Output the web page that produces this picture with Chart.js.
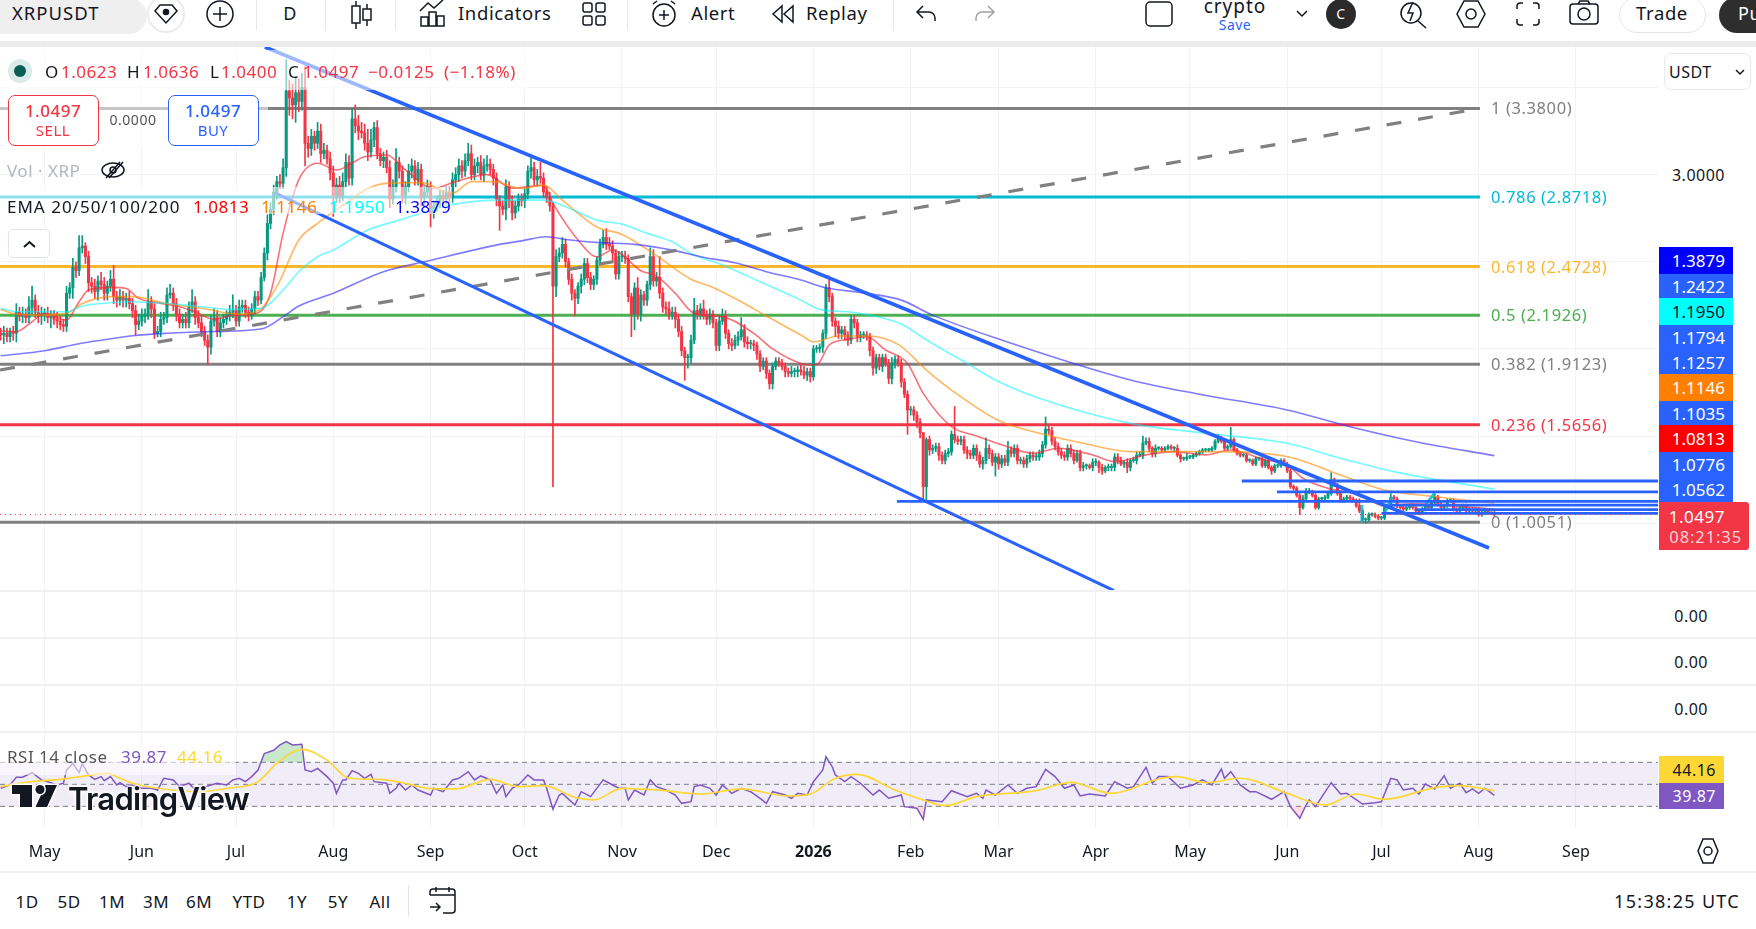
<!DOCTYPE html>
<html>
<head>
<meta charset="utf-8">
<title>XRPUSDT</title>
<script src="https://cdn.jsdelivr.net/npm/chart.js@4"></script>
<style>
  html, body { margin: 0; padding: 0; background: #fff; }
  #page { position: relative; width: 1756px; height: 929px; overflow: hidden; background: #fff; font-family: "Noto Sans", sans-serif; color: #131722; }
  #page > * { position: absolute; }
  canvas { display: block; }
  .t { white-space: nowrap; line-height: 1; }
  .line { background: #f0f0f3; left: 0; width: 1756px; height: 2px; }
  .fade { background: rgba(255,255,255,.55); }
  .tag { left: 1659px; width: 74px; text-align: right; color: #fff; font-size: 17px; box-sizing: border-box; padding-right: 8px; display: flex; align-items: center; justify-content: flex-end; }
  .vdiv { width: 1px; height: 30px; top: 0; background: #e6e6e8; }
  svg { fill: none; stroke: #131722; stroke-width: 1.5; overflow: visible; }
</style>
</head>
<body>
<div id="page">
  <canvas id="priceChart" width="1658" height="544" style="left:0;top:47px"></canvas>
  <canvas id="rsiChart" width="1658" height="279" style="left:0;top:592px"></canvas>

  <!-- toolbar -->
  <div style="left:0;top:-2px;width:147px;height:36px;background:#efefef;border-radius:0 18px 18px 0"></div>
  <div style="left:147px;top:-5px;width:38px;height:38px;background:#fff;border:2px solid #ececec;border-radius:50%;box-sizing:border-box"></div>
  <div style="left:0;top:41px;width:1756px;height:6px;background:#ebebeb"></div>
  <div class="vdiv" style="left:256px"></div><div class="vdiv" style="left:325px"></div><div class="vdiv" style="left:395px"></div>
  <div class="vdiv" style="left:627px"></div><div class="vdiv" style="left:893px"></div>
  <svg style="left:154px;top:3px" width="24" height="22"><path d="M6 2h12l5 6-11 12L1 8z"/><circle cx="12" cy="9" r="2.5" fill="#131722"/></svg>
  <svg style="left:206px;top:0" width="28" height="28"><circle cx="14" cy="14" r="13"/><path d="M14 7v14M7 14h14"/></svg>
  <svg style="left:350px;top:1px" width="22" height="28"><path d="M6 0v28M17 3v22"/><rect x="2" y="5" width="8" height="17" fill="#fff"/><rect x="13" y="8" width="8" height="11" fill="#fff"/></svg>
  <svg style="left:419px;top:0" width="28" height="28"><path d="M2 26V17h7v9zM10 26V12h7v14zM18 26V16h7v10zM1 11l8-8 6 5 9-8"/></svg>
  <svg style="left:582px;top:2px" width="24" height="24"><rect x="1" y="1" width="9" height="9" rx="2"/><rect x="14" y="1" width="9" height="9" rx="2"/><rect x="1" y="14" width="9" height="9" rx="2"/><rect x="14" y="14" width="9" height="9" rx="2"/></svg>
  <svg style="left:650px;top:0" width="28" height="28"><circle cx="14" cy="15" r="11"/><path d="M14 10v10M9 15h10M3 4l4-3M25 4l-4-3"/></svg>
  <svg style="left:771px;top:4px" width="24" height="20"><path d="M11 2v16L2 10zM22 2v16l-9-8z"/></svg>
  <svg style="left:915px;top:4px" width="24" height="20"><path d="M8 2L2 8l6 6M2 8h12a6 6 0 0 1 6 6v3"/></svg>
  <svg style="left:972px;top:4px;opacity:.4" width="24" height="20"><path d="M16 2l6 6-6 6M22 8H10a6 6 0 0 0-6 6v3"/></svg>
  <svg style="left:1145px;top:1px" width="28" height="26"><rect x="1" y="1" width="26" height="24" rx="4"/></svg>
  <svg style="left:1296px;top:10px" width="12" height="8"><path d="M1 1l5 5 5-5"/></svg>
  <div style="left:1326px;top:-1px;width:30px;height:30px;border-radius:50%;background:#2a2a2a"></div>
  <svg style="left:1400px;top:0" width="28" height="28"><circle cx="11" cy="13" r="10"/><path d="M18 21l8 7M13 2l-5 11h5l-3 8"/></svg>
  <svg style="left:1456px;top:0" width="30" height="28"><path d="M8 1h14l7 13-7 13H8L1 14z"/><circle cx="15" cy="14" r="5"/></svg>
  <svg style="left:1516px;top:2px" width="24" height="24"><path d="M7 1H4a3 3 0 0 0-3 3v3M17 1h3a3 3 0 0 1 3 3v3M7 23H4a3 3 0 0 1-3-3v-3M17 23h3a3 3 0 0 0 3-3v-3"/></svg>
  <svg style="left:1569px;top:0" width="30" height="26"><rect x="1" y="4" width="28" height="20" rx="3"/><circle cx="15" cy="14" r="6"/><path d="M9 4l2-3h8l2 3"/></svg>
  <div style="left:1619px;top:-3px;width:87px;height:36px;border:1px solid #e6e6e8;border-radius:18px;box-sizing:border-box"></div>
  <div style="left:1719px;top:-3px;width:60px;height:36px;background:#2e2e2e;border-radius:18px"></div>

  <!-- faded strips behind the chart legend -->
  <div class="fade" style="left:0;top:50px;width:528px;height:40px"></div>
  <div class="fade" style="left:0;top:90px;width:268px;height:58px"></div>
  <div class="fade" style="left:0;top:187px;width:452px;height:27px"></div>
  <div class="fade" style="left:0;top:745px;width:236px;height:30px"></div>

  <div style="left:8px;top:59px;width:24px;height:24px;border-radius:50%;background:#d9ecea"></div>
  <div style="left:14px;top:65px;width:12px;height:12px;border-radius:50%;background:#0b5e55"></div>
  <div style="left:8px;top:95px;width:91px;height:51px;border:1px solid #f23645;border-radius:7px;background:#fff;box-sizing:border-box"></div>
  <div style="left:168px;top:95px;width:91px;height:51px;border:1px solid #2962ff;border-radius:7px;background:#fff;box-sizing:border-box"></div>
  <svg style="left:101px;top:160px" width="24" height="20"><ellipse cx="12" cy="10" rx="11" ry="7"/><circle cx="12" cy="10" r="3"/><path d="M5 18L19 2M8 18L22 2"/></svg>
  <div style="left:8px;top:229px;width:42px;height:29px;border:1px solid #e0e3eb;border-radius:5px;box-sizing:border-box;background:#fff"></div>
  <svg style="left:23px;top:240px" width="13" height="8"><path d="M1 7l5.500-5 5.500 5" stroke-width="2"/></svg>
  <div style="left:1664px;top:53px;width:87px;height:37px;border:1px solid #e8eaf0;border-radius:7px;box-sizing:border-box;background:#fff"></div>
  <svg style="left:1735px;top:69px" width="10" height="6"><path d="M1 1l4 4 4-4" stroke-width="1.500"/></svg>

  <div class="line" style="top:590px"></div><div class="line" style="top:637px"></div>
  <div class="line" style="top:684px"></div><div class="line" style="top:731px"></div>
  <div class="line" style="top:871px"></div>

  <!-- TradingView mark -->
  <svg style="left:12px;top:785px;stroke:#fff;stroke-width:3;paint-order:stroke" width="45" height="22" viewBox="0 0 45 22"><path fill="#131722" d="M0 0H20V22H8V9H0zM33.500 0H45L35 22H23.500z"/><circle cx="28" cy="4.500" r="4.500" fill="#131722"/></svg>
  <div class="t" style="left:68px;top:782px;font:600 31px/1.1 Inter,sans-serif;letter-spacing:-.7px;text-shadow:0 0 2px #fff,0 0 2px #fff,0 0 3px #fff,0 0 3px #fff,0 0 4px #fff">TradingView</div>

  <svg style="left:1697px;top:838px" width="22" height="26"><path d="M6 1h10l5 12-5 12H6L1 13z"/><circle cx="11" cy="13" r="4"/></svg>
  <div style="left:408px;top:885px;width:1px;height:32px;background:#e0e3eb"></div>
  <svg style="left:429px;top:887px" width="27" height="28"><path d="M1 8V5a3 3 0 0 1 3-3h19a3 3 0 0 1 3 3v18a3 3 0 0 1-3 3h-9M1 8h25M7 0v5M20 0v5M1 20h10M7 16l4 4-4 4"/></svg>
</div>

<script>
// values. day 0 is 1 May 2025
const firstDay = -14;
const firstOpen = 2.09;
const closes = [
  2.08,2.09,2.07,2.10,2.09,2.21,2.19,2.20,2.18,2.24,2.28,2.21,2.19,2.20,2.20,2.18,2.19,2.17,2.16,2.14,
  2.13,2.32,2.35,2.47,2.45,2.58,2.59,2.53,2.38,2.36,2.33,2.39,2.37,2.32,2.36,2.40,2.30,2.28,2.30,2.28,
  2.29,2.26,2.22,2.14,2.16,2.19,2.20,2.27,2.23,2.09,2.10,2.17,2.18,2.31,2.32,2.26,2.20,2.15,2.17,2.15,
  2.24,2.27,2.18,2.15,2.10,2.05,2.01,2.16,2.18,2.10,2.15,2.17,2.19,2.21,2.22,2.16,2.24,2.25,2.21,2.19,
  2.23,2.30,2.28,2.41,2.55,2.72,2.80,2.90,2.96,2.95,3.04,3.48,3.44,3.40,3.47,3.42,3.50,3.18,3.15,3.22,
  3.18,3.25,3.12,3.14,3.09,3.01,2.88,2.94,2.88,2.96,3.07,2.98,3.32,3.28,3.25,3.24,3.18,3.13,3.20,3.27,
  3.12,3.08,3.10,3.04,2.86,2.93,3.07,3.02,2.88,2.93,3.02,3.05,2.97,3.03,2.87,2.90,2.93,2.78,2.82,2.85,
  2.88,2.86,2.90,2.87,2.97,3.00,3.05,3.02,3.08,3.12,3.00,3.05,3.07,3.00,3.05,3.06,3.03,2.98,2.86,2.82,
  2.80,2.93,2.85,2.78,2.82,2.86,2.85,2.89,3.02,3.04,2.97,2.99,2.98,2.90,2.87,2.82,2.36,2.53,2.55,2.60,
  2.50,2.40,2.32,2.29,2.36,2.40,2.49,2.41,2.37,2.40,2.51,2.60,2.64,2.60,2.59,2.55,2.43,2.53,2.53,2.52,
  2.30,2.20,2.35,2.20,2.31,2.28,2.37,2.53,2.39,2.41,2.32,2.24,2.23,2.20,2.21,2.17,2.10,1.99,1.95,1.95,
  2.05,2.22,2.20,2.23,2.19,2.17,2.20,2.15,2.02,2.16,2.19,2.09,2.03,2.02,2.05,2.07,2.11,2.04,2.03,2.03,
  2.02,1.97,1.90,1.93,1.86,1.80,1.90,1.93,1.92,1.90,1.87,1.86,1.87,1.87,1.88,1.87,1.85,1.87,1.84,2.00,
  2.00,2.01,2.09,2.35,2.30,2.16,2.13,2.09,2.11,2.08,2.05,2.17,2.15,2.07,2.08,2.08,2.07,1.99,1.89,1.95,
  1.90,1.95,1.92,1.83,1.92,1.94,1.92,1.81,1.74,1.65,1.65,1.62,1.58,1.52,1.21,1.48,1.42,1.43,1.44,1.39,
  1.36,1.40,1.41,1.51,1.48,1.47,1.48,1.42,1.40,1.39,1.43,1.39,1.34,1.36,1.43,1.40,1.35,1.38,1.34,1.37,
  1.35,1.42,1.40,1.43,1.36,1.36,1.34,1.37,1.39,1.38,1.38,1.40,1.45,1.54,1.53,1.47,1.44,1.41,1.39,1.38,
  1.43,1.40,1.36,1.40,1.32,1.33,1.33,1.32,1.35,1.35,1.32,1.30,1.32,1.32,1.32,1.38,1.36,1.34,1.35,1.32,
  1.36,1.36,1.39,1.39,1.46,1.47,1.43,1.40,1.43,1.43,1.42,1.43,1.44,1.43,1.43,1.39,1.37,1.37,1.38,1.38,
  1.39,1.40,1.41,1.42,1.42,1.42,1.43,1.47,1.49,1.47,1.43,1.44,1.48,1.42,1.40,1.39,1.39,1.36,1.36,1.34,
  1.37,1.37,1.33,1.36,1.32,1.30,1.33,1.33,1.36,1.34,1.30,1.21,1.20,1.16,1.09,1.14,1.18,1.18,1.16,1.09,
  1.14,1.14,1.15,1.17,1.25,1.22,1.17,1.13,1.14,1.15,1.14,1.13,1.10,1.07,1.02,1.02,1.05,1.05,1.04,1.03,
  1.03,1.09,1.10,1.15,1.14,1.10,1.09,1.08,1.09,1.10,1.09,1.07,1.06,1.08,1.10,1.09,1.12,1.15,1.11,1.09,
  1.10,1.13,1.13,1.08,1.07,1.09,1.10,1.07,1.08,1.07,1.08,1.05,1.06,1.07,1.06,1.0623,1.0497
];
// wick lengths in hundredths of a dollar, above and below the body
const upperWicks = [
  3,4,3,2,3,5,3,4,3,6,8,3,4,4,3,4,3,3,4,3,
  3,4,3,5,3,7,6,2,3,3,4,3,5,4,3,5,8,3,4,3,
  3,4,3,3,4,4,3,7,3,3,3,4,3,4,5,3,3,3,3,4,
  3,7,3,4,4,3,3,3,5,4,3,3,3,4,9,3,4,3,3,3,
  3,3,3,3,3,5,4,4,3,4,5,18,6,8,9,8,8,12,4,4,
  3,5,4,4,3,4,4,4,5,5,5,4,6,8,6,5,5,8,6,3,
  4,3,3,4,4,4,8,3,3,3,4,4,3,4,3,3,4,3,3,3,
  3,3,3,3,4,4,4,3,4,6,5,4,3,4,4,5,3,3,3,2,
  3,4,3,3,3,3,3,3,3,6,3,4,8,3,3,3,2,4,3,4,
  3,2,3,2,2,3,3,3,3,2,2,3,4,5,4,3,2,3,3,3,
  2,2,3,6,3,2,2,5,4,3,12,3,3,4,3,3,3,3,2,2,
  3,7,3,3,5,3,3,2,2,3,4,3,2,3,3,3,7,3,3,2,
  2,2,2,2,2,2,2,2,2,2,2,2,3,2,2,3,3,2,2,2,
  2,2,2,2,7,2,2,3,2,2,2,2,2,2,2,2,2,2,2,2,
  2,2,2,2,3,2,2,2,2,2,2,2,2,2,0,1,2,2,2,2,
  2,2,2,2,16,2,2,2,2,2,2,2,2,2,6,2,2,2,2,2,
  2,5,2,2,2,2,2,2,2,2,2,2,2,7,2,2,2,2,2,2,
  2,2,2,2,2,2,1,1,2,2,1,2,1,2,2,2,2,2,1,2,
  1,2,2,2,4,2,2,1,2,1,1,1,1,1,1,2,1,1,2,1,
  1,1,1,1,1,1,1,1,2,1,1,1,7,1,1,1,1,1,1,1,
  1,1,1,1,1,1,1,1,1,1,1,1,1,1,1,2,2,2,1,1,
  1,1,1,1,4,1,1,1,1,1,1,1,1,4,1,1,1,1,1,1,
  1,1,1,2,1,1,1,1,1,1,1,1,1,1,1,1,1,2,1,1,
  1,1,1,1,1,1,1,1,1,1,1,1,1,1,1,0,1
];
const lowerWicks = [
  3,5,3,3,4,5,3,4,3,3,4,3,4,5,4,3,6,3,4,3,
  3,3,3,6,4,3,3,4,5,4,4,5,3,4,4,3,4,4,3,4,
  4,3,4,6,3,3,4,3,5,3,2,3,3,3,2,4,4,3,3,3,
  3,3,4,3,3,3,10,4,3,3,3,3,3,3,3,3,3,3,3,3,
  2,3,3,2,2,4,3,3,4,3,3,5,10,8,10,6,5,13,5,4,
  4,3,5,3,3,4,12,4,4,3,3,4,4,4,5,3,4,5,3,4,
  3,3,4,3,5,3,3,4,4,5,3,4,3,3,5,4,3,8,3,3,
  4,3,3,3,3,4,4,4,3,3,3,3,4,3,4,3,3,4,4,14,
  3,6,4,4,3,3,3,4,3,4,3,3,3,3,3,3,115,6,3,3,
  3,3,4,10,3,4,3,3,3,3,3,2,2,3,2,5,3,3,3,3,
  3,13,9,3,4,3,3,3,3,3,3,3,3,3,3,5,3,3,13,6,
  3,2,3,3,2,3,3,3,3,3,2,3,3,3,2,3,2,3,3,3,
  3,3,3,2,3,3,3,2,2,2,3,2,2,3,3,2,2,3,3,2,
  2,2,3,3,3,3,6,3,3,3,3,2,3,3,3,2,2,3,4,3,
  2,3,2,3,3,3,2,3,2,14,3,3,3,3,7,9,3,2,2,3,
  2,2,2,2,2,2,2,2,3,2,2,3,2,3,2,3,2,8,3,2,
  2,2,2,2,2,2,2,2,2,2,2,2,2,2,2,2,2,2,2,2,
  2,2,2,1,2,2,2,1,2,2,3,2,1,2,2,2,2,1,2,3,
  2,1,2,1,2,1,2,2,2,1,1,1,1,1,2,1,2,1,1,1,
  1,1,1,1,1,1,1,1,1,1,1,1,1,1,1,1,1,1,1,1,
  1,1,1,1,1,2,1,1,1,1,1,1,1,1,4,1,1,1,1,1,
  1,1,1,1,1,1,1,1,1,1,1,1,1,1,1,2,1,1,1,1,
  1,1,1,1,1,1,1,1,1,1,1,1,1,1,1,1,1,1,1,1,
  1,1,1,1,1,1,1,1,1,1,1,1,1,1,1,1,1
];

const ema20Days = [-14,-9,-4,0,7,11,14,21,26,30,36,42,48,54,60,68,72,76,81,87,93,102,109,115,124,131,141,149,159,162,170,176,181,190,195,201,207,216,226,232,241,246,250,256,262,268,275,280,289,297,305,315,323,334,341,351,360,370,378,389,396,401,409,419,427,436,449,462];
const ema20 = [2.103,2.099,2.156,2.204,2.166,2.271,2.338,2.353,2.347,2.29,2.265,2.246,2.213,2.17,2.194,2.208,2.319,2.663,2.97,3.065,3.027,3.103,3.113,3.027,2.922,2.96,3.0,2.922,2.94,2.835,2.625,2.529,2.567,2.449,2.418,2.319,2.204,2.185,2.089,2.0,1.917,1.908,2.022,2.055,2.07,1.994,1.917,1.745,1.554,1.5,1.45,1.401,1.43,1.392,1.354,1.392,1.411,1.392,1.42,1.363,1.334,1.258,1.2,1.162,1.099,1.111,1.099,1.0813];
const ema50Days = [-14,-9,0,7,12,21,28,39,50,62,69,74,81,87,96,103,109,120,130,136,143,152,159,165,176,184,194,206,213,222,230,241,245,253,262,272,281,289,304,317,331,346,370,395,413,427,443,462];
const ema50 = [2.227,2.2,2.194,2.204,2.261,2.3,2.3,2.261,2.233,2.2,2.233,2.357,2.625,2.721,2.836,2.92,2.95,2.954,2.893,2.96,2.96,2.92,2.94,2.854,2.70,2.657,2.548,2.4,2.353,2.271,2.189,2.08,2.041,2.074,2.074,2.026,1.879,1.764,1.589,1.516,1.459,1.411,1.411,1.386,1.277,1.191,1.153,1.1146];
const ema100Days = [-14,-9,0,7,12,18,28,39,50,60,69,76,81,87,92,103,113,129,145,159,166,176,184,192,200,206,216,228,241,247,256,263,273,282,294,303,317,346,370,396,413,430,462];
const ema100 = [2.232,2.213,2.213,2.213,2.246,2.261,2.271,2.261,2.242,2.227,2.233,2.338,2.443,2.529,2.567,2.682,2.739,2.825,2.854,2.854,2.816,2.739,2.716,2.663,2.615,2.548,2.481,2.386,2.28,2.227,2.213,2.194,2.143,2.041,1.917,1.822,1.717,1.573,1.516,1.459,1.373,1.296,1.195];
const ema200Days = [-14,0,11,18,28,39,54,69,76,81,92,108,122,145,152,160,166,177,188,200,209,220,230,241,249,262,273,283,305,346,368,396,416,437,462];
const ema200 = [1.961,1.99,2.03,2.05,2.076,2.09,2.10,2.114,2.185,2.246,2.319,2.443,2.504,2.60,2.62,2.644,2.628,2.61,2.60,2.567,2.529,2.494,2.443,2.395,2.351,2.319,2.28,2.194,2.051,1.822,1.74,1.65,1.554,1.468,1.3879];

const fibRatios = ["1","0.786","0.618","0.5","0.382","0.236","0"];
const fibPrices = [3.38,2.8718,2.4728,2.1926,1.9123,1.5656,1.0051];
const fibColors = ["#808080","#00bcd4","#fbb72c","#4caf50","#808080","#f23645","#808080"];
const fibStartDay = -15;
const fibEndDay = 457.4;

const upperChannelDays = [70.2,460.3];
const upperChannel = [3.732,0.858];
const lowerChannelDays = [73.4,340.8];
const lowerChannel = [2.895,0.613];
const riseLineDays = [-14.2,457.4];
const riseLine = [1.879,3.38];
const shelfPrices = [1.2422,1.1794,1.1257,1.1035,1.0776,1.0562];
const shelfStartDays = [381.5,392.7,271.6,428.7,436.7,426];
const tealSegmentDays = [[419.8,419.8],[427,429.4],[440,443]];
const tealSegments = [[1.105,1.007],[1.059,1.15],[1.105,1.173]];
const lastPrice = 1.0497;

const rsiDays = [-14,-11,-9,-7,-4,-1,1,4,6,7,9,11,12,14,16,18,19,21,23,24,26,28,31,34,36,38,41,43,46,48,53,55,58,60,62,64,66,68,70,73,75,77,79,82,83,85,87,90,92,93,95,96,98,100,102,104,105,109,110,112,113,115,117,119,123,124,127,130,132,135,137,139,142,144,146,147,149,151,154,156,159,160,162,164,165,169,171,174,178,181,183,185,186,188,191,193,195,198,201,203,206,207,209,212,214,216,219,222,225,228,230,232,236,238,240,243,245,248,249,251,252,255,257,260,264,266,269,273,274,278,280,281,286,289,294,297,299,300,303,307,310,313,316,319,322,325,328,330,333,338,341,345,347,351,353,355,358,362,366,369,372,375,376,378,381,384,386,391,395,397,400,402,403,405,410,413,415,420,424,426,429,431,433,436,438,440,443,446,448,451,453,455,457,459,462];
const rsiValues = [46.4,49.4,56.4,56.4,60.6,54,52.4,49.4,51,63,69,60.6,69,58.5,54.5,57,53.3,57,49.4,51.5,47.9,49.4,46.4,46.4,44.8,55.5,54,47.9,51,44.8,49.4,51,49.4,54,55.5,52.4,57,63,78,81,85.8,88.8,85.8,86.4,63,61.5,64.5,57,51,41.8,54,54,62.4,60,55.5,59,52.4,51,41.8,46.4,51,44.8,49.4,44.8,40.3,46.4,43.3,54,55.5,61.5,54,57.6,54,41.8,49.4,38.8,46.4,49.4,58.5,54,54,46.4,27.3,40.3,41.8,31.2,43.3,38.8,54,49.4,46.4,46.4,35.8,44.8,40.3,54,47.9,44.8,40.3,32.7,34.2,47.9,49.4,46.4,40.3,49.4,41.8,46.4,43.3,37.3,32.7,43.3,40.3,37.3,41.8,40.3,52.4,63,75.2,66,58.5,52.4,57,51,40.3,44.8,37.3,40.3,29.7,28.2,18.2,35.8,34.2,44.2,38.8,41.8,37.3,44.8,40.3,49.4,41.8,46.4,47.9,63.6,57,46.4,49.4,39.4,41.2,39.4,52.4,46.4,47.9,65.5,51,57,57,46.4,49.4,54,49.4,63.9,55.5,61.5,49.4,43.3,43.3,36.4,43.3,29.7,19.1,31.2,35.8,29.7,51.5,41.2,41.8,32.1,33.3,34.2,55.5,54,44.8,46.4,41.2,50.3,45.8,57.9,46.4,51,42.4,45.8,41.8,46.4,39.87];
const rsiAvgDays = [-14,-4,3,10,20,24,28,36,50,58,68,74,82,90,97,107,114,122,131,142,151,159,169,175,184,196,209,222,237,244,252,259,271,280,287,297,316,327,340,355,361,370,381,396,408,418,427,443,451,462];
const rsiAvg = [47.9,52.4,54,56.4,60,55.5,51,46.4,43.3,46.4,52.4,69,81.8,72,55.5,54.5,51.5,46.4,45.8,54.5,47.9,48.8,38.2,35.8,46.4,44.8,41.2,45.8,39.4,41.2,55.5,59.1,44.8,35.8,30.6,38.8,44.2,51.8,41.8,54.8,57,51.5,55.5,41.8,31.2,41.2,36.4,47,48.8,44.16];
const rsiBands = [70,50,30];

const monthDays = [0,31,61,92,123,153,184,214,245,276,304,335,365,396,426,457,488];
const monthLabels = ["May","Jun","Jul","Aug","Sep","Oct","Nov","Dec","2026","Feb","Mar","Apr","May","Jun","Jul","Aug","Sep"];
const priceTicks = [3.5,3,2.5,2,1.5,1];

const xMin = -14.21, xMax = 514.15;
const priceMin = 0.6112, priceMax = 3.7323;
const rsiMin = 10.3, rsiMax = 224.8;

const gridColor = "#f2f3f6";
const upColor = "#089981", downColor = "#f23645", trendBlue = "#2962ff";

const days = closes.map((c, i) => firstDay + i);
const opens = closes.map((c, i) => (i ? closes[i - 1] : firstOpen));
const candleColors = closes.map((c, i) => (c >= opens[i] ? upColor : downColor));

function xy(xs, ys) {
  return xs.map((x, i) => ({ x: x, y: ys[i] }));
}

function lineSet(xs, ys, color, width, order, extra) {
  return Object.assign({
    type: "line", data: xy(xs, ys), borderColor: color, borderWidth: width,
    pointRadius: 0, fill: false, tension: 0, order: order,
  }, extra || {});
}

function emaSet(xs, ys, color) {
  return lineSet(xs, ys, color, 1.6, 20, { cubicInterpolationMode: "monotone" });
}

function xScale(showLabels) {
  return {
    type: "linear", min: xMin, max: xMax, offset: false,
    afterBuildTicks: (s) => { s.ticks = monthDays.map((v) => ({ value: v })); },
    afterFit: (s) => { s.height = showLabels ? 43 : 0; },
    grid: { color: gridColor, drawTicks: false, offset: false },
    border: { display: false },
    ticks: {
      display: showLabels, autoSkip: false, maxRotation: 0, padding: 15, color: "#131722",
      font: (c) => ({
        family: "Noto Sans", size: 16,
        weight: c.tick && monthLabels[monthDays.indexOf(c.tick.value)] === "2026" ? "bold" : "normal",
      }),
      callback: (v) => monthLabels[monthDays.indexOf(v)],
    },
  };
}

const priceSets = [];
fibPrices.forEach((p, i) => {
  priceSets.push(lineSet([fibStartDay, fibEndDay], [p, p], fibColors[i], 3, 50));
});
priceSets.push({
  type: "bar", data: days.map((d, i) => ({
    x: d,
    y: [Math.min(opens[i], closes[i]) - lowerWicks[i] / 100, Math.max(opens[i], closes[i]) + upperWicks[i] / 100],
  })),
  backgroundColor: candleColors, barThickness: 1, grouped: false, order: 40,
});
priceSets.push({
  type: "bar", data: days.map((d, i) => ({ x: d, y: [opens[i], closes[i]] })),
  backgroundColor: candleColors, barThickness: 2.4, minBarLength: 1, grouped: false, order: 39,
});
priceSets.push(emaSet(ema200Days, ema200, "rgba(50,40,255,.62)"));
priceSets.push(emaSet(ema100Days, ema100, "rgba(0,245,255,.55)"));
priceSets.push(emaSet(ema50Days, ema50, "rgba(255,140,0,.62)"));
priceSets.push(emaSet(ema20Days, ema20, "rgba(242,40,50,.65)"));
priceSets.push(lineSet(riseLineDays, riseLine, "#808080", 3.2, 12, { borderDash: [15, 17] }));
priceSets.push(lineSet(upperChannelDays, upperChannel, trendBlue, 3.6, 10));
priceSets.push(lineSet(lowerChannelDays, lowerChannel, trendBlue, 3, 10));
shelfPrices.forEach((p, i) => {
  priceSets.push(lineSet([shelfStartDays[i], xMax], [p, p], trendBlue, 2.8, 11));
});
tealSegments.forEach((seg, i) => {
  priceSets.push(lineSet(tealSegmentDays[i], seg, "rgba(0,188,212,.85)", 3, 11));
});
priceSets.push(lineSet([xMin, xMax], [lastPrice, lastPrice], downColor, 1, 9, { borderDash: [1, 4] }));

const priceChart = new Chart("priceChart", {
  type: "bar",
  data: { datasets: priceSets },
  options: {
    responsive: false, animation: false, devicePixelRatio: 1,
    layout: { padding: 0 },
    plugins: { legend: { display: false }, tooltip: { enabled: false } },
    scales: {
      x: xScale(false),
      y: {
        min: priceMin, max: priceMax,
        afterBuildTicks: (s) => { s.ticks = priceTicks.map((v) => ({ value: v })); },
        afterFit: (s) => { s.width = 0; },
        grid: { color: gridColor, drawTicks: false },
        border: { display: false },
        ticks: { display: false },
      },
    },
  },
});

const rsiSets = [];
rsiSets.push(lineSet([xMin, xMax], [rsiBands[0], rsiBands[0]], "transparent", 0, 60, {
  fill: { target: { value: rsiBands[2] }, below: "rgba(126,87,194,.11)", above: "rgba(126,87,194,.11)" },
}));
rsiBands.forEach((b) => {
  rsiSets.push(lineSet([xMin, xMax], [b, b], "#787b86", 1, 50, { borderDash: [5, 4] }));
});
rsiSets.push(lineSet(rsiDays, rsiValues, "#7e57c2", 1.5, 20, {
  fill: { target: { value: rsiBands[0] }, above: "rgba(76,175,80,.3)", below: "transparent" },
}));
rsiSets.push(lineSet(rsiDays, rsiValues, "transparent", 0, 21, {
  fill: { target: { value: rsiBands[2] }, above: "transparent", below: "rgba(242,54,69,.18)" },
}));
rsiSets.push(lineSet(rsiAvgDays, rsiAvg, "#fdd835", 1.7, 10, { cubicInterpolationMode: "monotone" }));

new Chart("rsiChart", {
  type: "line",
  data: { datasets: rsiSets },
  options: {
    responsive: false, animation: false, devicePixelRatio: 1,
    layout: { padding: 0 },
    plugins: { legend: { display: false }, tooltip: { enabled: false } },
    scales: {
      x: xScale(true),
      y: { display: false, min: rsiMin, max: rsiMax },
    },
  },
});

// all the words and numbers around the charts are plain page text
const page = document.getElementById("page");
function addText(text, x, y, o) {
  o = o || {};
  const el = document.createElement("div");
  el.className = "t";
  el.textContent = text;
  el.style.top = y + "px";
  el.style.fontSize = (o.size || 17) + "px";
  el.style.color = o.color || "#131722";
  el.style.letterSpacing = (o.spacing === undefined ? 0.5 : o.spacing) + "px";
  if (o.weight) el.style.fontWeight = o.weight;
  if (o.align === "right") {
    el.style.right = 1756 - x + "px";
    el.style.transform = "translateY(-50%)";
  } else if (o.align === "center") {
    el.style.left = x + "px";
    el.style.transform = "translate(-50%,-50%)";
  } else {
    el.style.left = x + "px";
    el.style.transform = "translateY(-50%)";
  }
  page.appendChild(el);
  return el;
}

// toolbar
addText("XRPUSDT", 12, 13, { size: 18.5, spacing: 1 });
addText("D", 290, 13, { size: 18, align: "center" });
addText("Indicators", 458, 13, { size: 18.5, spacing: 0.6 });
addText("Alert", 691, 13, { size: 18.5, spacing: 0.6 });
addText("Replay", 806, 13, { size: 18.5, spacing: 0.6 });
addText("crypto", 1235, 6, { size: 19, spacing: 1, align: "center" });
addText("Save", 1235, 25, { size: 14, align: "center", color: "#2962ff" });
addText("C", 1341, 14, { size: 14, align: "center", color: "#fff" });
addText("Trade", 1662, 13, { size: 18.5, spacing: 0.6, align: "center" });
addText("Pu", 1738, 13, { size: 18, color: "#fff" });

// legend
const red = "#f23645";
addText("O", 45, 71); addText("1.0623", 61, 71, { color: red });
addText("H", 127, 71); addText("1.0636", 143, 71, { color: red });
addText("L", 210, 71); addText("1.0400", 221, 71, { color: red });
addText("C", 288, 71); addText("1.0497", 303, 71, { color: red });
addText("\u22120.0125", 368, 71, { color: red });
addText("(\u22121.18%)", 444, 71, { color: red });
addText("1.0497", 53, 110, { align: "center", color: red, size: 17, weight: 500 });
addText("SELL", 53, 130, { align: "center", color: red, size: 15 });
addText("0.0000", 133, 120, { align: "center", size: 14, color: "#555" });
addText("1.0497", 213, 110, { align: "center", color: "#2962ff", size: 17, weight: 500 });
addText("BUY", 213, 130, { align: "center", color: "#2962ff", size: 15 });
addText("Vol \u00b7 XRP", 7, 170, { color: "#b2b5be" });
addText("EMA 20/50/100/200", 7, 206, { spacing: 1 });
addText("1.0813", 193, 206, { color: "#ff0000" });
addText("1.1146", 261, 206, { color: "#ff7f00" });
addText("1.1950", 329, 206, { color: "#00ffff" });
addText("1.3879", 395, 206, { color: "#0000ff" });
addText("RSI 14 close", 7, 756, { color: "#555" });
addText("39.87", 121, 756, { color: "#7e57c2" });
addText("44.16", 177, 756, { color: "#fdd835" });

// fibonacci level labels sit on the price scale
fibPrices.forEach((p, i) => {
  const y = 47 + priceChart.scales.y.getPixelForValue(p);
  addText(fibRatios[i] + " (" + p.toFixed(4) + ")", 1491, y, { size: 16.5, spacing: 0.6, color: fibColors[i] });
});

// price axis
addText("USDT", 1669, 72, { size: 16 });
addText("3.0000", 1725, 175, { size: 16, align: "right" });
["0.00", "0.00", "0.00"].forEach((s, i) => {
  addText(s, 1708, [616, 662, 709][i], { size: 16, align: "right" });
});

const tagLabels = ["1.3879","1.2422","1.1950","1.1794","1.1257","1.1146","1.1035","1.0813","1.0776","1.0562"];
const tagColors = ["#0000ff","#2962ff","#00ffff","#2962ff","#2962ff","#ff7f00","#2962ff","#ff0000","#2962ff","#2962ff"];
const tagEdges = [247,274,298,325,350,374,401,425,452,476,502];
tagLabels.forEach((s, i) => {
  const el = document.createElement("div");
  el.className = "tag";
  el.textContent = s;
  el.style.top = tagEdges[i] + "px";
  el.style.height = tagEdges[i + 1] - tagEdges[i] + "px";
  el.style.background = tagColors[i];
  if (tagColors[i] === "#00ffff") el.style.color = "#131722";
  page.appendChild(el);
});
const lastTag = document.createElement("div");
lastTag.style.cssText = "left:1659px;top:502px;width:90px;height:48px;background:#f23645;border-radius:0 3px 3px 0";
page.appendChild(lastTag);
addText("1.0497", 1725, 516, { size: 17, align: "right", color: "#fff" });
addText("08:21:35", 1742, 537, { size: 16.5, spacing: 0.9, align: "right", color: "#fbd0d4" });

const rsiTagA = document.createElement("div");
rsiTagA.style.cssText = "left:1659px;top:756px;width:65px;height:27px;background:#fdd835";
page.appendChild(rsiTagA);
const rsiTagB = document.createElement("div");
rsiTagB.style.cssText = "left:1659px;top:783px;width:65px;height:26px;background:#7e57c2";
page.appendChild(rsiTagB);
addText("44.16", 1716, 770, { size: 16, align: "right" });
addText("39.87", 1716, 796, { size: 16, align: "right", color: "#fff" });

// bottom bar
const rangeLabels = ["1D","5D","1M","3M","6M","YTD","1Y","5Y","All"];
const rangeCenters = [27,69,112,156,199,249,297,338,380];
rangeLabels.forEach((s, i) => addText(s, rangeCenters[i], 901, { size: 17, align: "center" }));
addText("15:38:25 UTC", 1740, 901, { size: 18, spacing: 1.3, align: "right" });
</script>
</body>
</html>
